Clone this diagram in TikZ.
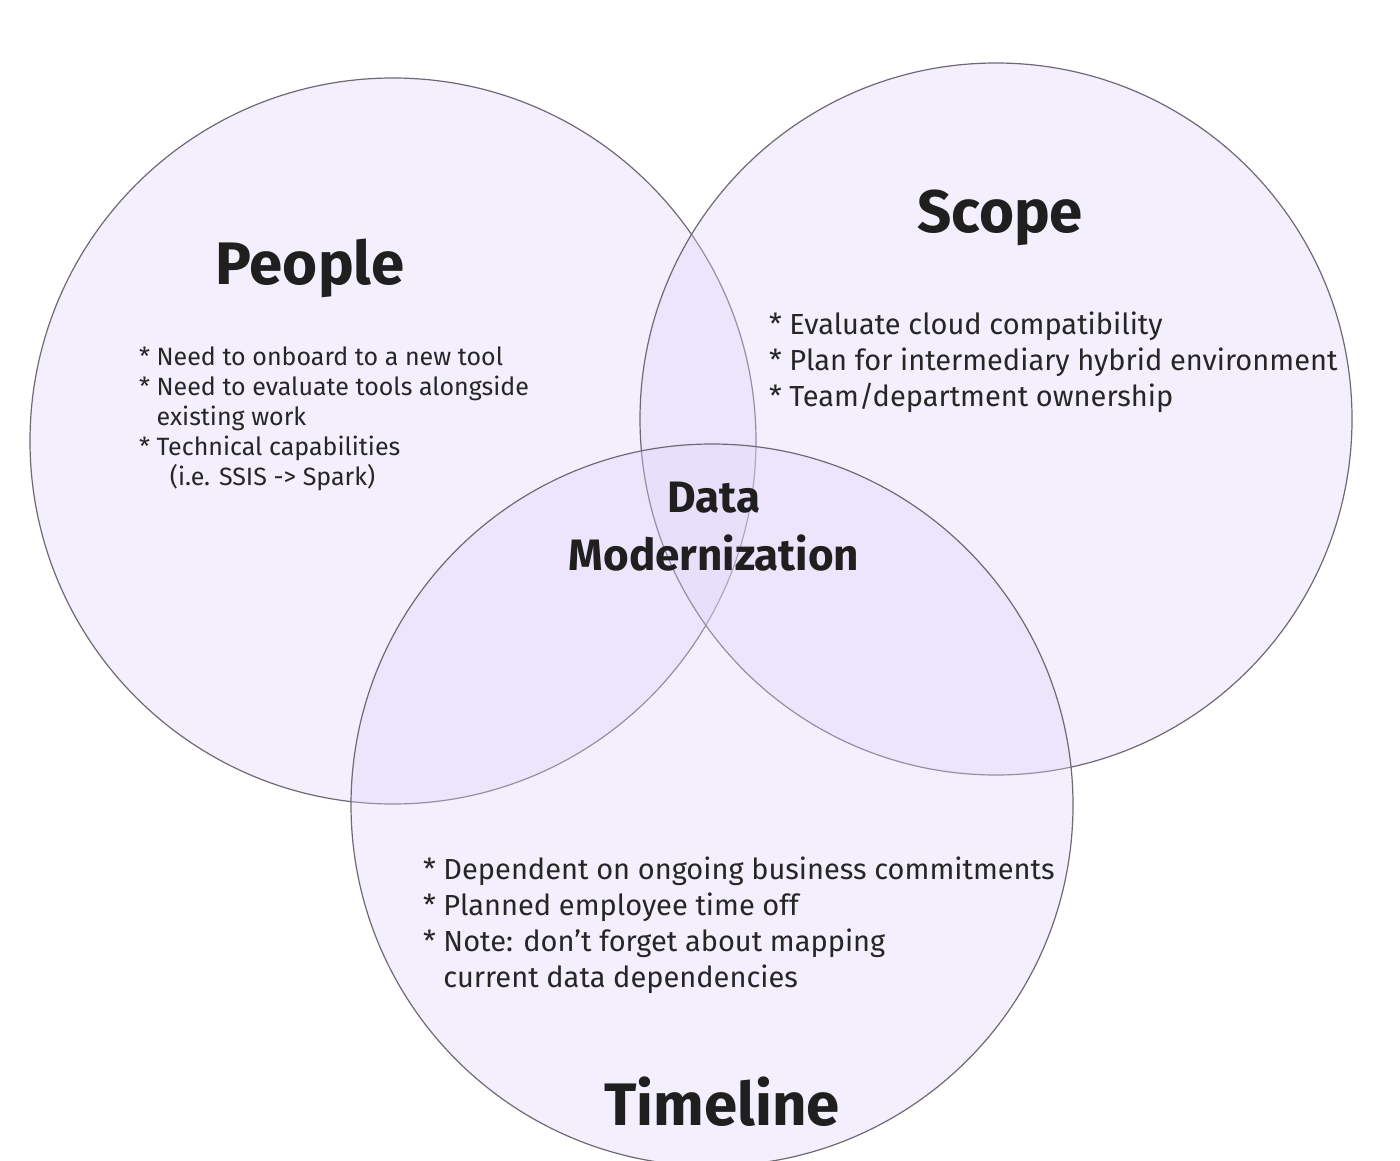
\documentclass[tikz,border=0pt]{standalone}
\usepackage{fontspec}
\setmainfont{Fira Sans}
\begin{document}
\begin{tikzpicture}[x=0.5pt,y=-0.5pt,
  venn/.style={draw={rgb,255:red,110;green,105;blue,115},line width=0.6pt,fill={rgb,255:red,225;green,212;blue,250},fill opacity=0.35},
  title/.style={font=\fontsize{30}{34}\selectfont\bfseries,text=black!88},
  bl/.style={align=left,anchor=north west,text=black!85}]
\useasboundingbox[fill=white] (0,0) rectangle (1400,1160);
\draw[venn] (393,441) circle[radius=363];
\draw[venn] (996,419) circle[radius=356];
\draw[venn] (712,805) circle[radius=361];
\node[title] (tp) at (310,268) {People};
\node[title] (ts) at (1000,218) {Scope};
\node[title] (tt) at (722,1102) {Timeline};
\node[font=\fontsize{22}{29}\selectfont\bfseries,align=center,text=black!88] (dm) at (714,527) {Data\\Modernization};
\node[bl,font=\fontsize{12.5}{15}\selectfont] (pb) at (132,340) {* Need to onboard to a new tool\\* Need to evaluate tools alongside\\\phantom{* }existing work\\* Technical capabilities\\\phantom{* }\ \ (i.e. SSIS -> Spark)};
\node[bl,font=\fontsize{14.5}{18}\selectfont] (sb) at (762,305) {* Evaluate cloud compatibility\\* Plan for intermediary hybrid environment\\* Team/department ownership};
\node[bl,font=\fontsize{14.5}{18}\selectfont] (tb) at (416,850) {* Dependent on ongoing business commitments\\* Planned employee time off\\* Note: don't forget about mapping\\\phantom{* }current data dependencies};
\end{tikzpicture}
\end{document}
